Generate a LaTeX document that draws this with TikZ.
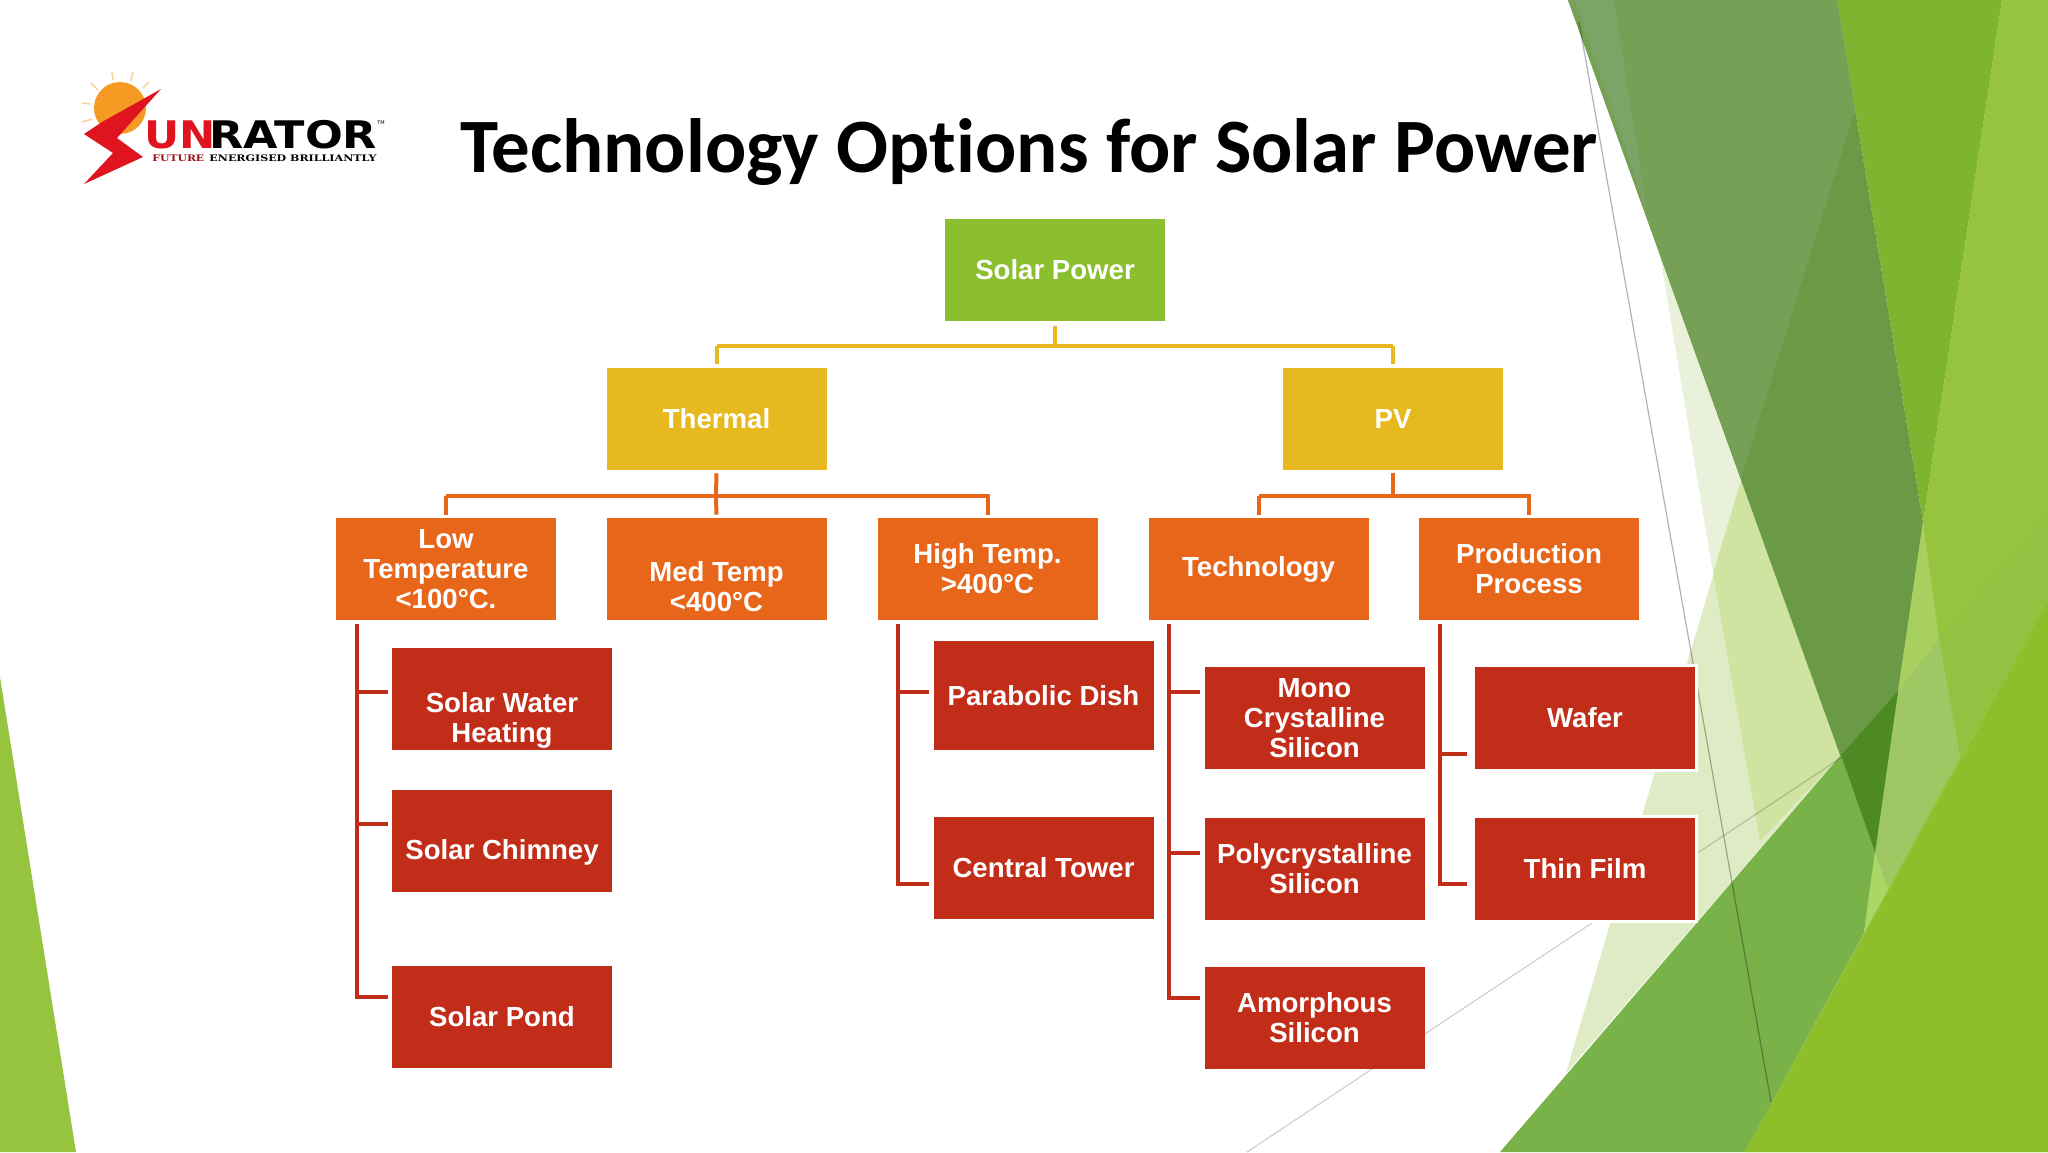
\documentclass[tikz,border=0pt]{standalone}
\usepackage{fontspec}
\setmainfont{Liberation Sans}
\newfontfamily\titlefont[Ligatures=NoCommon]{Carlito}
\newfontfamily\logofont{DejaVu Sans}
\newfontfamily\tagfont{DejaVu Serif}
\usepackage{xcolor}
\usetikzlibrary{positioning}
\definecolor{limebox}{HTML}{8CBF2E}
\definecolor{goldbox}{HTML}{E6B91E}
\definecolor{orangebox}{HTML}{E8661A}
\definecolor{redbox}{HTML}{C22D1A}
\definecolor{logored}{HTML}{E0141E}
\definecolor{sunorange}{HTML}{F59A23}
\tikzset{
    box/.style={rectangle, minimum width=110pt, minimum height=51pt, inner sep=0pt, text centered, align=center, text=white, font=\bfseries\fontsize{13.8}{15}\selectfont},
    rootbox/.style={box, fill=limebox},
    groupbox/.style={box, fill=goldbox},
    branchbox/.style={box, fill=orangebox},
    leafbox/.style={box, fill=redbox},
    haloleaf/.style={leafbox, draw=white, line width=1.5pt, minimum width=111.5pt, minimum height=52.5pt},
    goldline/.style={draw=goldbox, line width=2pt},
    orangeline/.style={draw=orangebox, line width=2pt},
    redline/.style={draw=redbox, line width=2pt},
    facetline/.style={draw=black, draw opacity=0.3, line width=0.6pt},
    faintline/.style={draw=black, draw opacity=0.18, line width=0.6pt},
    logotext/.style={anchor=base west, inner sep=0pt, transform shape}
}
\begin{document}
\begin{tikzpicture}[x=0.5pt, y=-0.5pt, node distance=74.5pt]
    \useasboundingbox (0,0) rectangle (2048,1152);

    % Background facets
    \fill[fill={rgb,255:red,151;green,196;blue,63}] (0,677) -- (76,1152) -- (0,1152) -- cycle;
    \fill[fill={rgb,255:red,151;green,196;blue,63}] (2002,0) -- (2048,0) -- (2048,1152) -- (1745,1152) -- (1864,933) -- (1923,522) -- cycle;
    \fill[fill={rgb,255:red,147;green,193;blue,66}] (1939,639) -- (2048,514) -- (2048,602) -- (1960,757) -- cycle;
    \fill[fill={rgb,255:red,127;green,180;blue,49}] (1837,0) -- (2002,0) -- (1923,522) -- cycle;
    \fill[fill={rgb,255:red,223;green,235;blue,196}] (1741,481) -- (1841,755) -- (1566,1073) -- cycle;
    \fill[fill={rgb,255:red,233;green,241;blue,219}] (1659,250) -- (1741,481) -- (1713,573) -- cycle;
    \fill[fill={rgb,255:red,207;green,228;blue,160}] (1713,573) -- (1741,481) -- (1841,755) -- (1760,841) -- cycle;
    \fill[fill={rgb,255:red,106;green,154;blue,69}] (1568,0) -- (1837,0) -- (1923,522) -- (1875,852) -- cycle;
    \fill[fill={rgb,255:red,118;green,160;blue,86}] (1568,0) -- (1837,0) -- (1855,110) -- (1741,478) -- cycle;
    \fill[fill={rgb,255:red,123;green,165;blue,102}] (1575,0) -- (1614,0) -- (1647,213) -- cycle;
    \fill[fill={rgb,255:red,168;green,208;blue,96}] (1923,522) -- (1939,639) -- (1898,691) -- cycle;
    \fill[fill={rgb,255:red,159;green,200;blue,100}] (1898,691) -- (1939,639) -- (1960,757) -- (1888,889) -- (1875,852) -- cycle;
    \fill[fill={rgb,255:red,122;green,178;blue,74}] (1500,1152) -- (1841,755) -- (1898,691) -- (1864,933) -- (1745,1152) -- cycle;
    \fill[fill={rgb,255:red,78;green,138;blue,36}] (1841,755) -- (1898,691) -- (1875,852) -- cycle;
    \fill[fill={rgb,255:red,159;green,200;blue,100}] (1875,852) -- (1888,889) -- (1960,757) -- (1864,933) -- cycle;
    \fill[fill={rgb,255:red,169;green,216;blue,102}] (1875,852) -- (1888,889) -- (1864,933) -- cycle;
    \fill[fill={rgb,255:red,143;green,190;blue,43}] (1745,1152) -- (2048,602) -- (2048,1152) -- cycle;
    \draw[facetline] (1579,22) -- (1771,1102);
    \draw[faintline] (1247,1152) -- (1842,757);

    % Logo
    \fill[sunorange] (120,108) circle (26);
    \draw[draw=sunorange!45!white, line width=0.8pt] (112,72) -- (113,80) (133,72) -- (131,81) (91,83) -- (98,90) (149,82) -- (143,88) (82,103) -- (90,104) (82,122) -- (92,119);
    \fill[logored] (161,89) -- (117,138) -- (143,157) -- (84,184) -- (113,153) -- (84,134) -- (102,122) -- cycle;
    \node[logotext, xscale=1.14, text=logored, font=\logofont\bfseries\fontsize{19}{19}\selectfont] (logoun) at (144,148) {UN};
    \node[logotext, xscale=1.17, text=black, font=\logofont\bfseries\fontsize{19}{19}\selectfont] (logorator) at (209,148) {RATOR};
    \node[logotext, text=black, font=\logofont\fontsize{2.5}{3}\selectfont] (logotm) at (377,124) {TM};
    \node[logotext, xscale=1.2, text=logored!70!black, font=\tagfont\bfseries\fontsize{4.5}{5}\selectfont] (logofuture) at (152,161) {FUTURE};
    \node[logotext, xscale=1.23, text=black, font=\tagfont\bfseries\fontsize{4.5}{5}\selectfont] (logotag) at (209,161) {ENERGISED BRILLIANTLY};

    % Title
    \node[font=\titlefont\bfseries\fontsize{38.45}{44}\selectfont, text=black] (title) at (1029,152) {Technology Options for Solar Power};

    % Top levels
    \node[rootbox] (root) at (1055,270) {Solar Power};
    \node[groupbox, below of=root, xshift=-169.25pt] (thermal) {Thermal};
    \node[groupbox, below of=root, xshift=169pt] (pv) {PV};

    % Thermal branches
    \node[branchbox, below of=thermal, xshift=-135.25pt, yshift=-0.5pt] (low) {Low\\Temperature\\<100°C.};
    \node[branchbox, below of=thermal, yshift=-0.5pt] (med) {\mbox{}\\[13pt]Med Temp\\<400°C};
    \node[branchbox, below of=thermal, xshift=135.5pt, yshift=-0.5pt] (high) {High Temp.\\>400°C};

    % PV branches
    \node[branchbox, below of=pv, xshift=-67.25pt, yshift=-0.5pt] (tech) {Technology};
    \node[branchbox, below of=pv, xshift=68pt, yshift=-0.5pt] (prod) {Production\\Process};

    % Leaves
    \node[leafbox, below of=low, xshift=28pt, yshift=9.75pt] (swh) {\mbox{}\\[17pt]Solar Water\\Heating};
    \node[leafbox, below of=swh, yshift=3.5pt] (chimney) {\mbox{}\\[7pt]Solar Chimney};
    \node[leafbox, below of=chimney, yshift=-13.5pt] (pond) {Solar Pond};
    \node[leafbox, below of=high, xshift=28pt, yshift=11.25pt, minimum height=54.5pt] (dish) {Parabolic Dish};
    \node[leafbox, below of=dish, yshift=-11.75pt] (tower) {Central Tower};
    \node[leafbox, below of=tech, xshift=28pt] (mono) {Mono\\Crystalline\\Silicon};
    \node[leafbox, below of=mono, yshift=-0.75pt] (poly) {Polycrystalline\\Silicon};
    \node[leafbox, below of=poly] (amorph) {Amorphous\\Silicon};
    \node[haloleaf, below of=prod, xshift=28pt] (wafer) {Wafer};
    \node[haloleaf, below of=wafer, yshift=-0.75pt] (film) {Thin Film};

    % Connections
    \coordinate (goldbus) at (1055,346);
    \coordinate (thermalbus) at (716,496);
    \coordinate (pvbus) at (1393,496);
    \draw[goldline, shorten <=2.5pt] (root.south) -- (goldbus);
    \draw[goldline, shorten >=2pt] (thermal.north |- goldbus) -- (thermal.north);
    \draw[goldline, shorten >=2pt] (pv.north |- goldbus) -- (pv.north);
    \draw[goldline] (thermal.north |- goldbus) -- (pv.north |- goldbus);
    \draw[orangeline, shorten <=1.5pt] (thermal.south) -- (thermalbus);
    \draw[orangeline, shorten <=1.5pt] (pv.south) -- (pvbus);
    \draw[orangeline, shorten >=1.5pt] (low.north |- thermalbus) -- (high.north |- thermalbus) -- (high.north);
    \draw[orangeline, shorten >=1.5pt] (low.north |- thermalbus) -- (low.north);
    \draw[orangeline, shorten >=1.5pt] (thermalbus) -- (med.north);
    \draw[orangeline, shorten >=1.5pt] (tech.north |- pvbus) -- (prod.north |- pvbus) -- (prod.north);
    \draw[orangeline, shorten >=1.5pt] (tech.north |- pvbus) -- (tech.north);

    \coordinate (lowtrunk) at ([xshift=10.5pt, yshift=-2pt]low.south west);
    \coordinate (hightrunk) at ([xshift=10.5pt, yshift=-2pt]high.south west);
    \coordinate (techtrunk) at ([xshift=10.5pt, yshift=-2pt]tech.south west);
    \coordinate (prodtrunk) at ([xshift=10.5pt, yshift=-2pt]prod.south west);
    \draw[redline] ([xshift=-2pt, yshift=3.5pt]swh.west) -| (lowtrunk);
    \draw[redline] ([xshift=-2pt, yshift=8.5pt]chimney.west) -| (lowtrunk);
    \draw[redline] ([xshift=-2pt, yshift=10pt]pond.west) -| (lowtrunk);
    \draw[redline] ([xshift=-2pt, yshift=2pt]dish.west) -| (hightrunk);
    \draw[redline] ([xshift=-2pt, yshift=-7.75pt]tower.west) -| (hightrunk);
    \draw[redline] ([xshift=-2pt, yshift=13pt]mono.west) -| (techtrunk);
    \draw[redline] ([xshift=-2pt, yshift=7.75pt]poly.west) -| (techtrunk);
    \draw[redline] ([xshift=-2pt, yshift=10pt]amorph.west) -| (techtrunk);
    \draw[redline] ([xshift=-2.5pt, yshift=-17.75pt]wafer.west) -| (prodtrunk);
    \draw[redline] ([xshift=-2.5pt, yshift=-7.75pt]film.west) -| (prodtrunk);
\end{tikzpicture}
\end{document}
